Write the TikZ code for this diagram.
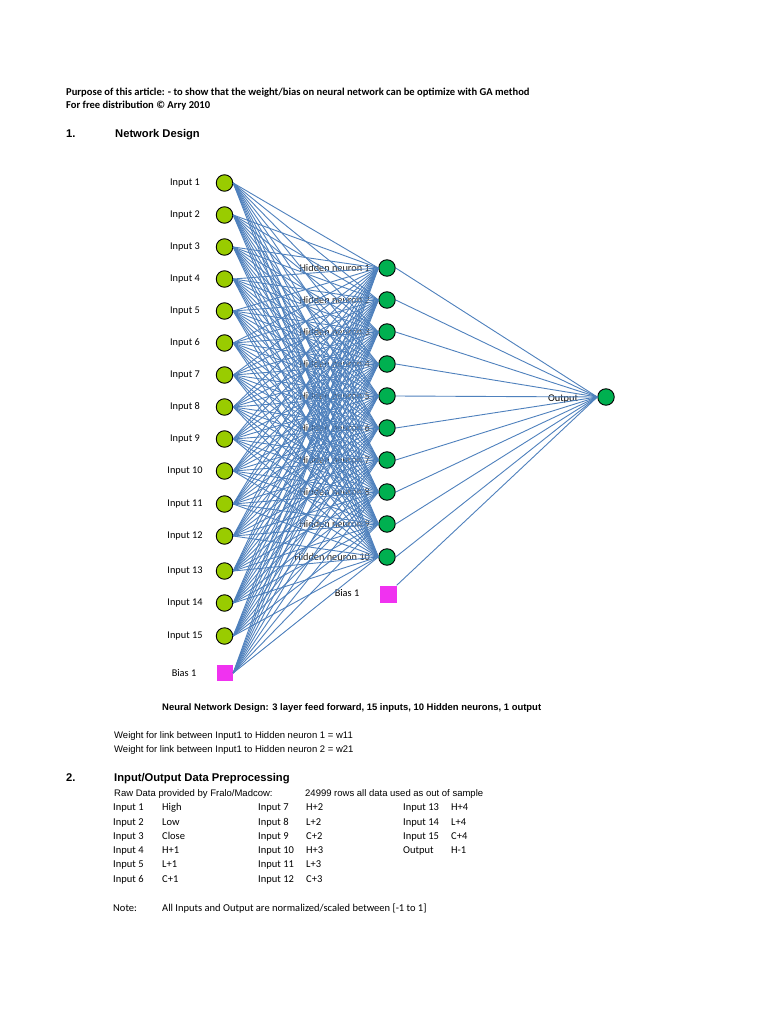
\documentclass[tikz,border=0pt]{standalone}
\usepackage{fontspec}
\setmainfont{Carlito}
\newfontfamily\arialfont{Liberation Sans}
\definecolor{inpgreen}{HTML}{99CC00}
\definecolor{hidgreen}{HTML}{00B050}
\definecolor{biasmag}{HTML}{F032F0}
\definecolor{linkblue}{HTML}{4F81BD}
\tikzset{
  inp/.style={circle,draw=black,line width=0.9pt,fill=inpgreen,minimum size=16.5pt,inner sep=0pt},
  hid/.style={circle,draw=black,line width=0.9pt,fill=hidgreen,minimum size=16.5pt,inner sep=0pt},
  biasbox/.style={rectangle,fill=biasmag,minimum size=16pt,inner sep=0pt},
  lab/.style={font=\fontsize{10.3}{12}\selectfont,inner sep=0pt},
  hlab/.style={font=\fontsize{10.3}{12}\selectfont,inner sep=0pt,text=black!85,anchor=east},
  link/.style={draw=linkblue,line width=0.9pt},
  cal/.style={font=\fontsize{10.5}{12}\selectfont,anchor=base west,inner sep=0pt},
  calb/.style={font=\fontsize{10.55}{12}\bfseries\selectfont,anchor=base west,inner sep=0pt},
  ar/.style={font=\arialfont\fontsize{9.5}{12}\selectfont,anchor=base west,inner sep=0pt},
  arb/.style={font=\arialfont\fontsize{9.45}{12}\bfseries\selectfont,anchor=base west,inner sep=0pt},
  arh/.style={font=\arialfont\fontsize{11.2}{13}\bfseries\selectfont,anchor=base west,inner sep=0pt}
}
\begin{document}
\begin{tikzpicture}[x=1pt,y=-1pt]
\useasboundingbox (0,0) rectangle (768,1024);
\fill[white] (0,0) rectangle (768,1024);
% header
\node[calb] (t1) at (66,95.5) {Purpose of this article: - to show that the weight/bias on neural network can be optimize with GA method};
\node[calb] (t2) at (66,108.5) {For free distribution © Arry 2010};
\node[arh] (s1n) at (66,138) {1.};
\node[arh] (s1) at (115,138) {Network Design};
% input layer
\foreach \i/\y in {1/183,2/215,3/247,4/279,5/311,6/343,7/375,8/407,9/439,10/471,11/504,12/536,13/571,14/603,15/636}{
  \node[inp] (i\i) at (224.5,\y) {};
  \node[lab] (il\i) at (185,\y) {Input \i};
}
\node[biasbox] (ib) at (225,673) {};
\node[lab] (ibl) at (184,673) {Bias 1};
% hidden layer
\foreach \j/\y in {1/268,2/300,3/332,4/364,5/396,6/428,7/460,8/492,9/524,10/557}{
  \node[hid] (h\j) at (387,\y) {};
  \node[hlab] (hl\j) at (370,\y) {Hidden neuron \j};
}
\node[biasbox,minimum size=17pt] (hb) at (388,594) {};
\node[lab] (hbl) at (347,593) {Bias 1};
% output
\node[hid] (o) at (606,397) {};
\node[lab] (ol) at (563,399) {Output};
% links
\foreach \i in {1,...,15}{
  \foreach \j in {1,...,10}{
    \draw[link] (i\i.east) -- (h\j.west);
  }
}
\foreach \j in {1,...,10}{
  \draw[link] (ib.east) -- (h\j.west);
  \draw[link] (h\j.east) -- (o.west);
}
\draw[link] (hb.north east) -- (o.west);
% caption and notes
\node[arb] (cap) at (162,710.5) {Neural Network Design: 3 layer feed forward, 15 inputs, 10 Hidden neurons, 1 output};
\node[ar] (w1) at (114,738.5) {Weight for link between Input1 to Hidden neuron 1 = w11};
\node[ar] (w2) at (114,752.5) {Weight for link between Input1 to Hidden neuron 2 = w21};
\node[arh] (s2n) at (66,781) {2.};
\node[arh] (s2) at (114,781) {Input/Output Data Preprocessing};
\node[ar] (raw) at (114,796.5) {Raw Data provided by Fralo/Madcow:};
\node[ar] (rows) at (305,796.5) {24999 rows all data used as out of sample};
% table
\foreach \r/\y/\a/\b/\c/\d in {1/810.5/Input 1/High/Input 7/H+2,2/825.5/Input 2/Low/Input 8/L+2,3/839.5/Input 3/Close/Input 9/C+2,4/853.5/Input 4/H+1/Input 10/H+3,5/867.5/Input 5/L+1/Input 11/L+3,6/882.5/Input 6/C+1/Input 12/C+3}{
  \node[cal] (ta\r) at (113,\y) {\a};
  \node[cal] (tb\r) at (162,\y) {\b};
  \node[cal] (tc\r) at (258,\y) {\c};
  \node[cal] (td\r) at (306,\y) {\d};
}
\foreach \r/\y/\a/\b in {1/810.5/Input 13/H+4,2/825.5/Input 14/L+4,3/839.5/Input 15/C+4,4/853.5/Output/H-1}{
  \node[cal] (te\r) at (403,\y) {\a};
  \node[cal] (tf\r) at (451,\y) {\b};
}
\node[cal] (note) at (113,911.5) {Note:};
\node[cal] (notet) at (162,911.5) {All Inputs and Output are normalized/scaled between [-1 to 1]};
\end{tikzpicture}
\end{document}
